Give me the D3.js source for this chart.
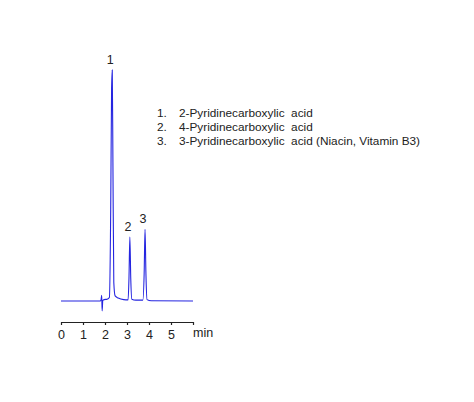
<!DOCTYPE html>
<html><head><meta charset="utf-8">
<script src="https://cdn.jsdelivr.net/npm/d3@7"></script>
<style>
html,body{margin:0;padding:0;background:#fff;}
svg{display:block;font-family:"Liberation Sans",Arial,sans-serif;}
</style></head>
<body><svg id="c" width="474" height="402"></svg>
<script>
// chromatogram trace: time (min), signal (relative units)
const times   = [0, 1.78, 1.82, 1.85, 1.87, 1.90, 1.96, 2.10, 2.20, 2.26, 2.30, 2.33, 2.36, 2.40, 2.46, 2.60, 2.85, 3.05, 3.09, 3.13, 3.17, 3.22, 3.40, 3.72, 3.78, 3.82, 3.86, 3.91, 4.10, 6.0];
const signal  = [0, 0, 0.5, 2.5, -4.3, 0.2, 0.6, 0.8, 1.5, 40, 92, 100, 60, 8, 2.2, 1.3, 0.6, 0.5, 10, 27.7, 10, 0.8, 0.4, 0.4, 12, 31, 12, 0.6, 0.1, 0];
const peakTimes  = [2.33, 3.13, 3.82];
const peakLabels = ["1", "2", "3"];
const compounds  = ["2-Pyridinecarboxylic  acid", "4-Pyridinecarboxylic  acid", "3-Pyridinecarboxylic  acid (Niacin, Vitamin B3)"];
const xTicks = [0, 1, 2, 3, 4, 5];
const xUnit = "min";

const svg = d3.select("#c");
const x = d3.scaleLinear().domain([0, 6]).range([61, 193]);
const y = d3.scaleLinear().domain([0, 100]).range([301, 70]);

const pts = times.map((t, i) => [t, signal[i]]);
svg.append("path")
  .datum(pts)
  .attr("fill", "none")
  .attr("stroke", "#2525e0")
  .attr("stroke-width", 1.1)
  .attr("d", d3.line().x(d => x(d[0])).y(d => y(d[1])).curve(d3.curveMonotoneX));

// axis
const ax = svg.append("g").attr("transform", "translate(0,322)")
  .call(d3.axisBottom(x).tickValues(xTicks.concat([6])).tickSize(3).tickSizeOuter(0)
        .tickFormat(d => xTicks.includes(d) ? d : ""));
ax.select(".domain").attr("stroke", "#222").attr("stroke-width", 1.2);
ax.selectAll(".tick line").attr("stroke", "#222").attr("stroke-width", 1.2);
ax.selectAll(".tick text").attr("font-size", 12.5).attr("font-family", "Liberation Sans, Arial, sans-serif").attr("fill", "#222").attr("dy", "0.9em");
svg.append("text").attr("x", x(6)).attr("y", 337).attr("font-size", 12.5).attr("fill", "#222").text(xUnit);

// peak labels
peakTimes.forEach((t, i) => {
  const idx = times.indexOf(t);
  svg.append("text").attr("x", x(t) - 2).attr("y", y(signal[idx]) - 6)
    .attr("text-anchor", "middle").attr("font-size", 12.5).attr("fill", "#222").text(peakLabels[i]);
});

// legend
compounds.forEach((c, i) => {
  const g = svg.append("g").attr("transform", `translate(157,${117 + i * 14})`);
  g.append("text").attr("font-size", 11.8).attr("fill", "#222").text((i + 1) + ".");
  g.append("text").attr("x", 22).attr("font-size", 11.8).attr("fill", "#222").attr("xml:space","preserve").text(c);
});
</script></body></html>
